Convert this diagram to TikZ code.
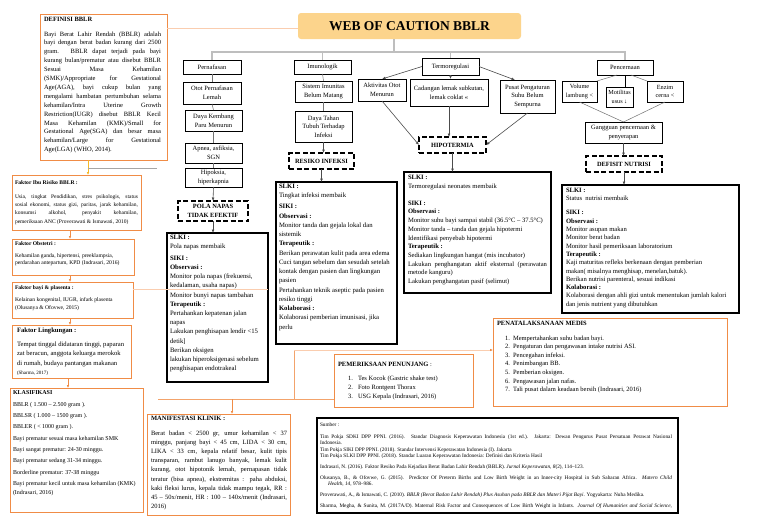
\documentclass[tikz,border=0pt]{standalone}
\usepackage{fontspec}
\setmainfont{Liberation Serif}
\usetikzlibrary{arrows.meta}
\definecolor{obrd}{RGB}{240,140,70}
\definecolor{ofaint}{RGB}{250,205,175}
\definecolor{tfill}{RGB}{252,212,140}
\definecolor{glinec}{RGB}{190,190,190}
\definecolor{yarr}{RGB}{245,185,40}
\newcommand\fsz[2]{\fontsize{#1}{#2}\selectfont}
\newcommand\jl[2]{\makebox[#1][s]{#2}}
\begin{document}
\begin{tikzpicture}[x=1pt,y=-1pt,
  every node/.style={inner sep=0pt, outer sep=0pt},
  obox/.style={draw=obrd, line width=0.9pt, anchor=north west},
  kbox/.style={draw=black, line width=0.8pt, anchor=north west, align=center, font=\fsz{6.5}{8.7}},
  bbox/.style={draw=black, line width=1.4pt, anchor=north west},
  dbox/.style={draw=black, line width=1.4pt, dash pattern=on 5pt off 2.5pt, anchor=north west, align=center, font=\bfseries\fsz{6.4}{8.4}},
  txt/.style={anchor=north west, align=left},
  arr/.style={-{Latex[length=3.5pt,width=2.8pt]}, line width=0.6pt, draw=black!70},
  tline/.style={line width=0.5pt, draw=black!55},
  topl/.style={line width=1.4pt, draw=glinec},
  oarr/.style={-{Latex[length=3pt,width=2.6pt]}, line width=0.7pt, draw=obrd},
  oline/.style={line width=0.8pt, draw=obrd!80},
  ofl/.style={line width=0.8pt, draw=ofaint},
  sref/.style={anchor=base west, font=\fsz{5.3}{6}},
]
\useasboundingbox (0,0) rectangle (768,523);
\fill[white] (0,0) rectangle (768,523);

% Title
\node[fill=tfill, rounded corners=3pt, minimum width=223pt, minimum height=26pt, anchor=north west, font=\bfseries\fsz{13.5}{15}] (title) at (298,13) {WEB OF CAUTION BBLR};

% Definition
\node[obox, minimum width=127pt, minimum height=146pt] (def) at (40,14) {};
\node[txt, font=\bfseries\fsz{6.5}{8.9}] (deft) at (44,17.5) {DEFINISI BBLR};
\node[txt, font=\fsz{6.5}{8.9}] (defp) at (44,31.5) {\jl{117pt}{Bayi Berat Lahir Rendah (BBLR) adalah}\\\jl{117pt}{bayi dengan berat badan kurang dari 2500}\\\jl{117pt}{gram. BBLR dapat terjadi pada bayi}\\\jl{117pt}{kurang bulan/prematur atau disebut BBLR}\\\jl{117pt}{Sesuai Masa Kehamilan}\\\jl{117pt}{(SMK)/Appropriate for Gestational}\\\jl{117pt}{Age(AGA), bayi cukup bulan yang}\\\jl{117pt}{mengalami hambatan pertumbuhan selama}\\\jl{117pt}{kehamilan/Intra Uterine Growth}\\\jl{117pt}{Restriction(IUGR) disebut BBLR Kecil}\\\jl{117pt}{Masa Kehamilan (KMK)/Small for}\\\jl{117pt}{Gestational Age(SGA) dan besar masa}\\\jl{117pt}{kehamilan/Large for Gestational}\\Age(LGA) (WHO, 2014).};

% Faktor boxes
\node[obox, minimum width=129pt, minimum height=55pt] (ibu) at (12,175) {};
\node[txt, font=\bfseries\fsz{5.6}{8}] (ibut) at (15,180.5) {Faktor Ibu Risiko BBLR :};
\node[txt, font=\fsz{5.5}{8.3}] (ibup) at (15,194.5) {\jl{123pt}{Usia, tingkat Pendidikan, stres psikologis, status}\\\jl{123pt}{sosial ekonomi, status gizi, paritas, jarak kehamilan,}\\\jl{123pt}{konsumsi alkohol, penyakit kehamilan,}\\pemeriksaan ANC (Proverawati \& Ismawati, 2010)};

\node[obox, minimum width=122pt, minimum height=36pt] (obs) at (12,239) {};
\node[txt, font=\bfseries\fsz{5.6}{8}] (obst) at (15,241.5) {Faktor Obstetri :};
\node[txt, font=\fsz{5.6}{7.5}] (obsp) at (15,253.5) {Kehamilan ganda, hipertensi, preeklampsia,\\perdarahan antepartum, KPD (Indrasari, 2016)};

\node[obox, minimum width=121pt, minimum height=36pt] (bayi) at (12,282) {};
\node[txt, font=\bfseries\fsz{5.6}{8}] (bayit) at (15,285.5) {Faktor bayi \& plasenta :};
\node[txt, font=\fsz{5.6}{8}] (bayip) at (15,297.5) {Kelainan kongenital, IUGR, infark plasenta\\(Olusanya \& Ofovwe, 2015)};

\node[obox, minimum width=119pt, minimum height=53pt] (ling) at (12,325) {};
\node[txt, font=\bfseries\fsz{6.6}{9}] (lingt) at (17,328) {Faktor Lingkungan :};
\node[txt, font=\fsz{6.6}{9.3}] (lingp) at (17,342) {Tempat tinggal didataran tinggi, paparan\\zat beracun, anggota keluarga merokok\\di rumah, budaya pantangan makanan\\{\fsz{5}{9.3}(Sharma, 2017)}};

\node[obox, minimum width=133pt, minimum height=124pt] (klas) at (10,388) {};
\node[txt, font=\fsz{6}{11.3}] (klast) at (13,391) {\textbf{KLASIFIKASI}\\BBLR ( 1.500 -- 2.500 gram ).\\BBLSR ( 1.000 -- 1500 gram ).\\BBLER ( < 1000 gram ).\\Bayi prematur sesuai masa kehamilan SMK\\Bayi sangat prematur: 24-30 minggu.\\Bayi prematur sedang 31-34 minggu.\\Borderline prematur: 37-38 minggu\\Bayi prematur kecil untuk masa kehamilan (KMK)\\[-2pt](Indrasari, 2016)};

\node[obox, minimum width=143pt, minimum height=101pt] (manif) at (147,414) {};
\node[txt, font=\bfseries\fsz{6.5}{9}] (manift) at (151,416.5) {MANIFESTASI KLINIK :};
\node[txt, font=\fsz{6.5}{9.2}] (manifp) at (151,430.5) {\jl{136pt}{Berat badan < 2500 gr, umur kehamilan < 37}\\\jl{136pt}{minggu, panjang bayi < 45 cm, LIDA < 30 cm,}\\\jl{136pt}{LIKA < 33 cm, kepala relatif besar, kulit tipis}\\\jl{136pt}{transparan, rambut lanugo banyak, lemak kulit}\\\jl{136pt}{kurang, otot hipotonik lemah, pernapasan tidak}\\\jl{136pt}{teratur (bisa apnea), ekstremitas : paha abduksi,}\\\jl{136pt}{kaki fleksi lurus, kepala tidak mampu tegak, RR :}\\\jl{136pt}{45 -- 50x/menit, HR : 100 -- 140x/menit (Indrasari,}\\2016)};

% Pernafasan column
\node[kbox, minimum width=58pt, minimum height=14pt] (pern) at (183,60) {Pernafasan};
\node[kbox, minimum width=58pt, minimum height=22pt] (otot) at (183,82) {Otot Pernafasan\\Lemah};
\node[kbox, minimum width=57pt, minimum height=21pt] (dayak) at (185,110) {Daya Kembang\\Paru Menurun};
\node[kbox, minimum width=57pt, minimum height=20pt] (apnea) at (185,143) {Apnea, asfiksia,\\SGN};
\node[kbox, minimum width=57pt, minimum height=19pt] (hipok) at (185,168) {Hipoksia,\\hiperkapnia};
\node[dbox, minimum width=70pt, minimum height=20pt] (pola) at (178,201) {POLA NAPAS\\TIDAK EFEKTIF};
\node[bbox, minimum width=101pt, minimum height=149pt] (slki1) at (167,233) {};
\node[txt, font=\fsz{6.7}{9.2}] (slki1t) at (170,235) {\textbf{SLKI :}\\Pola napas membaik\\[2.5pt]\textbf{SIKI :}\\\textbf{Observasi :}\\Monitor pola napas (frekuensi,\\kedalaman, usaha napas)\\Monitor bunyi napas tambahan\\\textbf{Terapeutik :}\\Pertahankan kepatenan jalan\\napas\\Lakukan penghisapan lendir <15\\detik]\\Berikan oksigen\\lakukan hiperoksigenasi sebelum\\penghisapan endotrakeal};

% Imunologik column
\node[kbox, minimum width=57pt, minimum height=14pt] (imun) at (294,60) {Imunologik};
\node[kbox, minimum width=57pt, minimum height=21pt] (sist) at (295,81) {Sistem Imunitas\\Belum Matang};
\node[kbox, minimum width=57pt, minimum height=31pt] (dayat) at (295,111) {Daya Tahan\\Tubuh Terhadap\\Infeksi};
\node[dbox, minimum width=65pt, minimum height=16pt] (resiko) at (289,153) {RESIKO INFEKSI};
\node[bbox, minimum width=121pt, minimum height=162pt] (slki2) at (276,182) {};
\node[txt, font=\fsz{6.7}{9.25}] (slki2t) at (279,184) {\textbf{SLKI :}\\Tingkat infeksi membaik\\[2pt]\textbf{SIKI :}\\\textbf{Observasi :}\\Monitor tanda dan gejala lokal dan\\sistemik\\\textbf{Terapeutik :}\\Berikan perawatan kulit pada area edema\\Cuci tangan sebelum dan sesudah setelah\\kontak dengan pasien dan lingkungan\\pasien\\Pertahankan teknik aseptic pada pasien\\resiko tinggi\\\textbf{Kolaborasi :}\\Kolaborasi pemberian imunisasi, jika\\perlu};

% Termoregulasi column
\node[kbox, minimum width=57pt, minimum height=17pt] (termo) at (422,58) {Termoregulasi};
\node[kbox, minimum width=48pt, minimum height=22pt] (aktiv) at (358,79) {Aktivitas Otot\\Menurun};
\node[kbox, minimum width=78pt, minimum height=27pt] (cad) at (410,79) {Cadangan lemak subkutan,\\lemak coklat <<};
\node[kbox, minimum width=55pt, minimum height=33pt] (pusat) at (500,80) {Pusat Pengaturan\\Suhu Belum\\Sempurna};
\node[dbox, minimum width=67pt, minimum height=16pt] (hipo) at (419,137) {HIPOTERMIA};
\node[bbox, minimum width=147pt, minimum height=121pt] (slki3) at (404,172) {};
\node[txt, font=\fsz{6.6}{8.7}] (slki3t) at (408,175) {\textbf{SLKI :}\\Termoregulasi neonates membaik\\[8.5pt]\textbf{SIKI :}\\\textbf{Observasi :}\\Monitor suhu bayi sampai stabil (36.5°C -- 37.5°C)\\Monitor tanda -- tanda dan gejala hipotermi\\Identifikasi penyebab hipotermi\\\textbf{Terapeutik :}\\Sediakan lingkungan hangat (mis incubator)\\\jl{139pt}{Lakukan penghangatan aktif eksternal (perawatan}\\metode kanguru)\\Lakukan penghangatan pasif (selimut)};

% Pencernaan column
\node[kbox, minimum width=56pt, minimum height=15pt] (penc) at (597,60) {Pencernaan};
\node[kbox, minimum width=35pt, minimum height=21pt, font=\fsz{6.3}{8.5}] (vol) at (562,81) {Volume\\lambung <};
\node[kbox, minimum width=27pt, minimum height=20pt, font=\fsz{6.2}{8.5}] (mot) at (606,87) {Motilitas\\usus ↓};
\node[kbox, minimum width=36pt, minimum height=21pt, font=\fsz{6.3}{8.5}] (enz) at (647,81) {Enzim\\cerna <};
\node[kbox, minimum width=77pt, minimum height=21pt] (gang) at (585,122) {Gangguan pencernaan \&\\penyerapan};
\node[dbox, minimum width=76pt, minimum height=16pt] (defisit) at (586,156) {DEFISIT NUTRISI};
\node[bbox, minimum width=177pt, minimum height=128pt] (slki4) at (562,185) {};
\node[txt, font=\fsz{6.6}{8.3}] (slki4t) at (566,188) {\textbf{SLKI :}\\Status\ \ nutrisi membaik\\[6pt]\textbf{SIKI :}\\\textbf{Observasi :}\\Monitor asupan makan\\Monitor berat badan\\Monitor hasil pemeriksaan laboratorium\\\textbf{Terapeutik :}\\Kaji maturitas refleks berkenaan dengan pemberian\\makan( misalnya menghisap, menelan,batuk).\\Berikan nutrisi parenteral, sesuai indikasi\\\textbf{Kolaborasi :}\\Kolaborasi dengan ahli gizi untuk menentukan jumlah kalori\\dan jenis nutrient yang dibutuhkan};

% Penatalaksanaan
\node[obox, minimum width=234pt, minimum height=88pt] (penat) at (493,318) {};
\node[txt, font=\bfseries\fsz{6.5}{8.6}] (penatt) at (497,321.5) {PENATALAKSANAAN MEDIS};
\node[txt, font=\fsz{6.5}{8.6}] (penatp) at (505,335.5) {\makebox[8pt][l]{1.}Mempertahankan suhu badan bayi.\\\makebox[8pt][l]{2.}Pengaturan dan pengawasan intake nutrisi ASI.\\\makebox[8pt][l]{3.}Pencegahan infeksi.\\\makebox[8pt][l]{4.}Penimbangan BB.\\\makebox[8pt][l]{5.}Pemberian oksigen.\\\makebox[8pt][l]{6.}Pengawasan jalan nafas.\\\makebox[8pt][l]{7.}Tali pusat dalam keadaan bersih (Indrasari, 2016)};

% Pemeriksaan
\node[obox, minimum width=139pt, minimum height=53pt] (pem) at (334,354) {};
\node[txt, font=\fsz{6.5}{9}] (pemt) at (338,362) {\textbf{PEMERIKSAAN PENUNJANG} :};
\node[txt, font=\fsz{6.5}{9}] (pemp) at (348,376) {\makebox[10pt][l]{1.}Tes Kocok (Gastric shake test)\\\makebox[10pt][l]{2.}Foto Rontgent Thorax\\\makebox[10pt][l]{3.}USG Kepala (Indrasari, 2016)};

% Sumber
\node[draw=black, line width=1.2pt, anchor=north west, minimum width=361pt, minimum height=95pt] (sumber) at (317,418) {};
\node[sref] (s0) at (320,426) {Sumber :};
\node[sref] (s1) at (320,438.5) {\jl{352pt}{Tim Pokja SDKI DPP PPNI. (2016). Standar Diagnosis Keperawatan Indonesia (1st ed.). Jakarta: Dewan Pengurus Pusat Persatuan Perawat Nasional}};
\node[sref] (s2) at (320,444.5) {Indonesia.};
\node[sref] (s3) at (320,451.5) {Tim Pokja SIKI DPP PPNI. (2018). Standar Intervensi Keperawatan Indonesia (I). Jakarta};
\node[sref] (s4) at (320,457.5) {Tim Pokja SLKI DPP PPNI. (2018). Standar Luaran Keperawatan Indonesia: Definisi dan Kriteria Hasil};
\node[sref] (s5) at (320,468.5) {Indrasari, N. (2016). Faktor Resiko Pada Kejadian Berat Badan Lahir Rendah (BBLR). \textit{Jurnal Keperawatan}, \textit{8}(2), 114--123.};
\node[sref] (s6) at (320,479) {\jl{352pt}{Olusanya, B., \& Ofovwe, G. (2015). Predictor Of Preterm Births and Low Birth Weight in an Inner-city Hospital in Sub Saharan Africa. \textit{Matern Child}}};
\node[sref] (s7) at (328,485.5) {\textit{Health, 14}, 978--986.};
\node[sref] (s8) at (320,496.5) {Proverawati, A., \& Ismawati, C. (2010). \textit{BBLR (Berat Badan Lahir Rendah) Plus Asuhan pada BBLR dan Materi Pijat Bayi}. Yogyakarta: Nuha Medika.};
\node[sref] (s9) at (320,507.5) {\jl{352pt}{Sharma, Megha, \& Sunita, M. (2017A/D). Maternal Risk Factor and Consequences of Low Birth Weight in Infants. \textit{Journal Of Humanities and Social Science,}}};

% ---------- connectors ----------
\coordinate (hb) at (394,52);
\draw[topl] (title.south -| hb) -- (hb);
\draw[topl] (pern.north) -- (pern.north |- hb) -- (penc.north |- hb) -- (penc.north);
\draw[topl] (imun.north) -- (imun.north |- hb);
\draw[topl] (termo.north) -- (termo.north |- hb);

\draw[tline] (pern.south) -- (otot.north);
\draw[tline] (otot.south) -- (dayak.north);
\draw[tline] (dayak.south) -- (apnea.north);
\draw[tline] (apnea.south) -- (hipok.north);
\draw[arr] (hipok.south) -- (pola.north);
\draw[arr] (pola.south) -- (pola.south |- slki1.north);

\draw[tline] (imun.south) -- (sist.north);
\draw[tline] (sist.south) -- (dayat.north);
\draw[arr] (dayat.south) -- (dayat.south |- resiko.north);
\draw[arr] (resiko.south) -- (resiko.south |- slki2.north);

\draw[arr] (termo.west) -- (aktiv.north);
\draw[arr] (termo.south) -- (termo.south |- cad.north);
\draw[arr] (termo.east) -- ([xshift=15pt]pusat.north west);
\draw[arr] (aktiv.south) -- (hipo.west);
\draw[arr] (cad.south) -- (cad.south |- hipo.north);
\draw[arr] (pusat.south) -- (hipo.east);
\draw[arr] (hipo.south) -- (hipo.south |- slki3.north);

\draw[tline] ([xshift=-8pt]penc.south) -- (vol.north east);
\draw[line width=1pt] (penc.south) -- (penc.south |- mot.north);
\draw[tline] ([xshift=6pt]penc.south) -- (enz.north west);
\draw[tline] (vol.south) -- (gang.north);
\draw[tline] (enz.south) -- (gang.north);
\draw[arr] (gang.south) -- (gang.south |- defisit.north);
\draw[arr] (defisit.south) -- (defisit.south |- slki4.north);

% left column orange connectors
\coordinate (t1) at (0,28);
\draw[ofl] (def.east |- t1) -- (title.west |- t1);
\coordinate (c88) at (88,0);
\draw[-{Latex[length=3pt,width=2.6pt]}, line width=0.8pt, draw=yarr] (def.south -| c88) -- (ibu.north -| c88);
\coordinate (g1) at (88,168);
\coordinate (g2) at (157,168);
\draw[line width=0.6pt, draw=black!35] (g1) -- (g2);
\coordinate (c70) at (70,0);
\draw[oarr] (ibu.south -| c70) -- (obs.north -| c70);
\draw[oarr] (obs.south -| c70) -- (bayi.north -| c70);
\draw[oarr] (bayi.south -| c70) -- (ling.north -| c70);
\coordinate (c68) at (68,0);
\draw[oarr] (ling.south -| c68) -- (klas.north -| c68);
\coordinate (f1) at (0,289);
\coordinate (f2) at (268,289);
\draw[ofl] (bayi.east |- f1) -- (f2);

% bottom orange network
\coordinate (k1) at (158,399);
\coordinate (k2) at (294,350);
\coordinate (k3) at (294,399);
\coordinate (k4) at (232,399);
\draw[oline] (k1) -- (pem.west |- k1);
\draw[oline] (k2) -- (k3);
\draw[ofl, -{Latex[length=3pt,width=2.6pt,color=obrd]}] (k2) -- (penat.west |- k2);
\draw[oarr] (k4) -- (k4 |- manif.north);
\end{tikzpicture}
\end{document}
